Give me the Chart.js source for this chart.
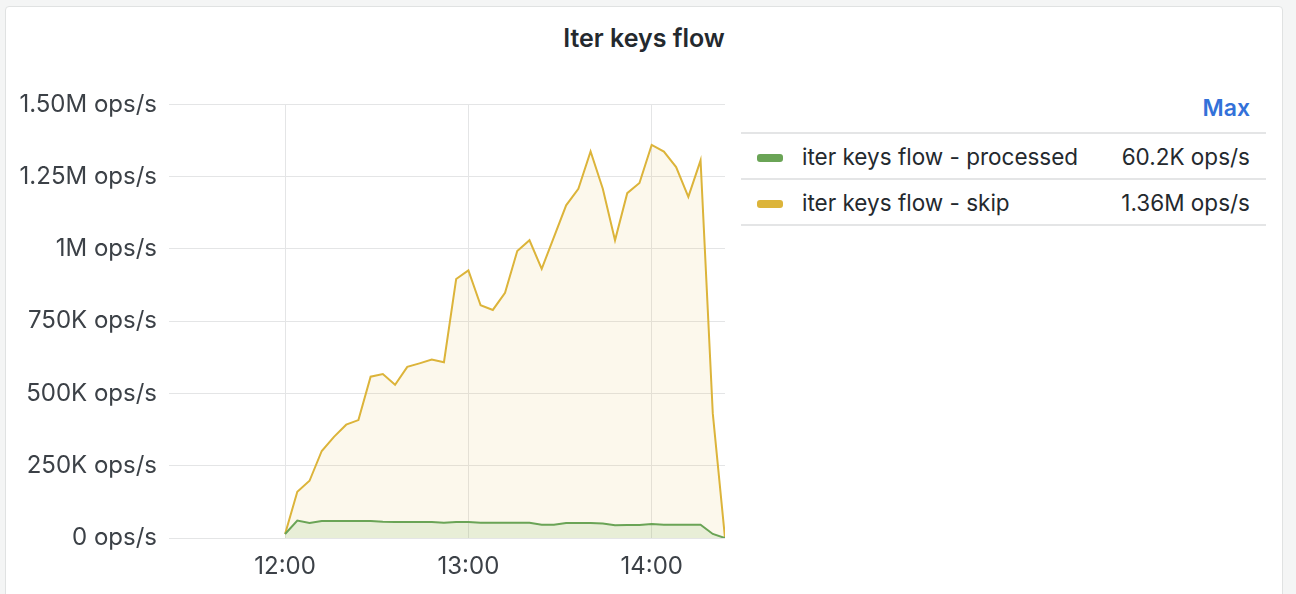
<!DOCTYPE html>
<html>
<head>
<meta charset="utf-8">
<script src="https://cdn.jsdelivr.net/npm/chart.js@4.4.1/dist/chart.umd.min.js"></script>
<style>
  html, body { margin: 0; padding: 0; background: #f4f5f5; }
  body { width: 1296px; height: 594px; overflow: hidden; position: relative; font-family: Inter, sans-serif; }
  .panel { position: absolute; left: 5px; top: 6px; width: 1276px; height: 600px; background: #fff; border: 1px solid #e0e2e2; border-radius: 4px; }
  .title { position: absolute; left: 0; width: 1288px; top: 23px; text-align: center; font-size: 25px; font-weight: 600; color: #24292e; }
  .chart-box { position: absolute; left: 6px; top: 78px; width: 730px; height: 516px; }
  table.legend { position: absolute; left: 741px; top: 92px; width: 525px; border-collapse: collapse; font-size: 22.5px; color: #24292e; }
  table.legend th { text-align: right; color: #3371d9; font-weight: 600; font-size: 23px; padding: 0 16px 8px 0; border-bottom: 2px solid #e4e5e6; height: 32px; }
  table.legend td { height: 44px; border-bottom: 2px solid #e4e5e6; padding: 0; white-space: nowrap; }
  table.legend td.val { text-align: right; padding-right: 16px; }
  .sw { display: inline-block; width: 26px; height: 8px; border-radius: 3px; margin: 0 19px 0 16px; vertical-align: middle; }
</style>
</head>
<body>
<div class="panel"></div>
<div class="title">Iter keys flow</div>
<div class="chart-box"><canvas id="chart"></canvas></div>
<table class="legend" id="legend"></table>
<script>
// time of each sample (every 4 minutes)
const times = ['12:00', '12:04', '12:08', '12:12', '12:16', '12:20', '12:24', '12:28', '12:32', '12:36',
  '12:40', '12:44', '12:48', '12:52', '12:56', '13:00', '13:04', '13:08', '13:12', '13:16',
  '13:20', '13:24', '13:28', '13:32', '13:36', '13:40', '13:44', '13:48', '13:52', '13:56',
  '14:00', '14:04', '14:08', '14:12', '14:16', '14:20', '14:24'];

// ops/s
const processed = [14000, 60200, 52000, 59000, 59000, 59000, 59000, 59000, 56000, 55000,
  55000, 55000, 55000, 53000, 55000, 55000, 53000, 53000, 53000, 53000,
  53000, 46000, 46000, 52000, 52000, 52000, 50000, 44000, 45000, 45000,
  48000, 46000, 46000, 46000, 46000, 14000, 0];
const skip = [14000, 160000, 198000, 301000, 350000, 392000, 408000, 558000, 567000, 530000,
  592000, 604000, 617000, 608000, 896000, 926000, 805000, 789000, 848000, 993000,
  1030000, 931000, 1041000, 1151000, 1208000, 1337000, 1208000, 1030000, 1193000, 1228000,
  1360000, 1337000, 1283000, 1180000, 1306000, 431000, 0];

const seriesNames = ['iter keys flow - processed', 'iter keys flow - skip'];
const seriesMax = ['60.2K ops/s', '1.36M ops/s'];

const xTicks = ['12:00', '13:00', '14:00'];
const xRange = ['11:22', '14:24'];
const yTicks = [0, 250000, 500000, 750000, 1000000, 1250000, 1500000];
const yTickLabels = ['0 ops/s', '250K ops/s', '500K ops/s', '750K ops/s', '1M ops/s', '1.25M ops/s', '1.50M ops/s'];

const GREEN = '#6aa456';
const YELLOW = '#dcb43a';

function toMin(t) {
  const [h, m] = t.split(':').map(Number);
  return h * 60 + m;
}

const xs = times.map(toMin);
const tickFont = { family: 'Inter, sans-serif', size: 24 };

new Chart(document.getElementById('chart').getContext('2d'), {
  type: 'line',
  data: {
    datasets: [{
      label: seriesNames[0],
      data: xs.map((x, i) => ({ x, y: processed[i] })),
      borderColor: GREEN,
      backgroundColor: 'rgba(115, 175, 90, 0.14)',
      borderWidth: 2,
      fill: 'origin',
      pointRadius: 0,
      tension: 0,
    }, {
      label: seriesNames[1],
      data: xs.map((x, i) => ({ x, y: skip[i] })),
      borderColor: YELLOW,
      backgroundColor: 'rgba(230, 190, 80, 0.11)',
      borderWidth: 2,
      fill: 'origin',
      pointRadius: 0,
      tension: 0,
    }],
  },
  options: {
    responsive: true,
    maintainAspectRatio: false,
    animation: false,
    layout: { padding: { top: 26, right: 11, bottom: 0, left: 0 } },
    plugins: {
      legend: { display: false },
      tooltip: { enabled: false },
    },
    scales: {
      x: {
        type: 'linear',
        min: toMin(xRange[0]),
        max: toMin(xRange[1]),
        afterBuildTicks: (scale) => { scale.ticks = xTicks.map(t => ({ value: toMin(t) })); },
        afterFit: (scale) => { scale.height = 56; },
        ticks: {
          color: '#3c4147',
          font: tickFont,
          padding: 14,
          maxRotation: 0,
          callback: (v) => xTicks.find(t => toMin(t) === v) || '',
        },
        grid: { color: '#e4e5e6', drawTicks: false },
        border: { display: false },
      },
      y: {
        min: 0,
        max: 1500000,
        afterBuildTicks: (scale) => { scale.ticks = yTicks.map(v => ({ value: v })); },
        afterFit: (scale) => { scale.width = 163; },
        ticks: {
          color: '#3c4147',
          font: tickFont,
          padding: 12,
          callback: (v) => yTickLabels[yTicks.indexOf(v)],
        },
        grid: { color: '#e4e5e6', drawTicks: false },
        border: { display: false },
      },
    },
  },
});

// legend table with the Max column
const legend = document.getElementById('legend');
let html = '<tr><th colspan="2">Max</th></tr>';
[GREEN, YELLOW].forEach((c, i) => {
  html += '<tr><td><span class="sw" style="background:' + c + '"></span>' + seriesNames[i] +
    '</td><td class="val">' + seriesMax[i] + '</td></tr>';
});
legend.innerHTML = html;
</script>
</body>
</html>
